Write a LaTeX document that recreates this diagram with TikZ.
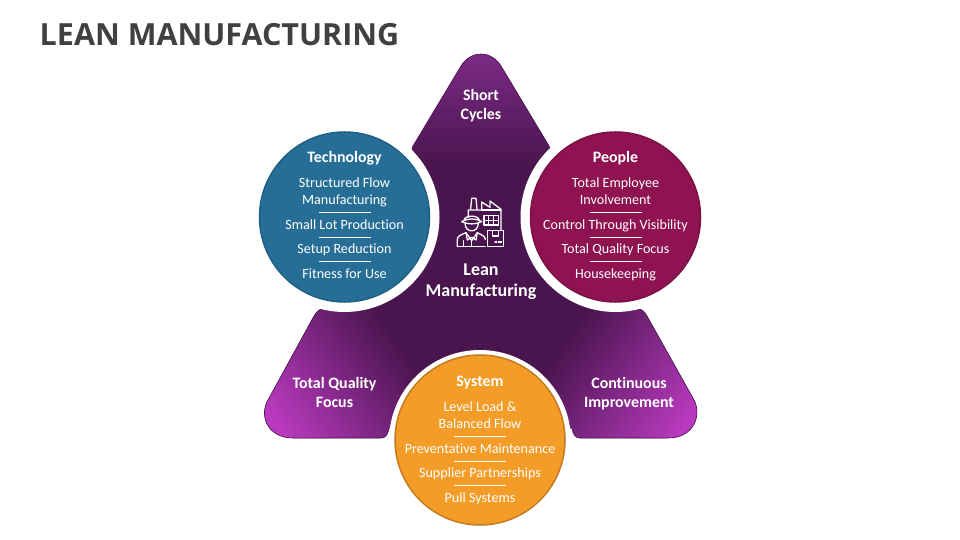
\documentclass[tikz,border=0pt]{standalone}
\usepackage{fontspec}
\setmainfont{Carlito}[Ligatures=NoCommon]
\newfontfamily\titlefont{Open Sans}
\definecolor{darkplum}{HTML}{4A154F}
\definecolor{midplum}{HTML}{7A2A80}
\definecolor{brightplum}{HTML}{B93ABF}
\definecolor{topplum}{HTML}{7B2A84}
\definecolor{techblue}{HTML}{276E96}
\definecolor{techedge}{HTML}{1F5F85}
\definecolor{peoplered}{HTML}{8E1350}
\definecolor{peopleedge}{HTML}{7A1146}
\definecolor{sysorange}{HTML}{F39C27}
\definecolor{sysedge}{HTML}{C47A1E}
\definecolor{titlegrey}{HTML}{404040}
\tikzset{
  headlabel/.style={text=white,font=\fontsize{15.9}{15.9}\selectfont\bfseries,text height=11pt,text depth=3pt,inner sep=0pt},
  centrelabel/.style={headlabel,font=\fontsize{18}{18}\selectfont\bfseries},
  itemlabel/.style={text=white,font=\fontsize{14.1}{14.1}\selectfont,text height=9pt,text depth=3pt,inner sep=0pt},
  bigdisc/.style={circle,draw,line width=1.5pt,minimum size=170pt,inner sep=0pt},
  gapdisc/.style={circle,fill=white,inner sep=0pt},
  sepline/.style={white,line width=0.8pt},
  iconline/.style={white,line width=1.3pt,line join=round,line cap=round}
}
\def\blobpath{(461,66) .. controls (471,50) and (491,50) .. (501,66) -- (549,146) .. controls (551,149) and (550,152) .. (546,155) -- (615,217) -- (630,311) .. controls (636,308) and (642,307) .. (647,316) -- (694,400) .. controls (702,415) and (694,438) .. (668,438) -- (580,438) .. controls (575,438) and (573,434) .. (572,428) -- (480,440) -- (389,428) .. controls (388,434) and (386,438) .. (381,438) -- (293,438) .. controls (267,438) and (259,415) .. (268,400) -- (314,316) .. controls (319,307) and (325,308) .. (331,311) -- (344,217) -- (415,154) .. controls (412,152) and (411,149) .. (413,146) -- cycle}
\begin{document}
\begin{tikzpicture}[x=1pt,y=-1pt]
\useasboundingbox (0,0) rectangle (960,540);
\fill[white] (0,0) rectangle (960,540);
\node[anchor=west,inner sep=0pt,text=titlegrey,font=\fontsize{30.5}{30.5}\selectfont\titlefont\bfseries] (title) at (39.5,34.5) {LEAN MANUFACTURING};
% blob
\begin{scope}
\clip \blobpath;
\fill[darkplum] (240,40) rectangle (720,450);
\begin{scope}[transform canvas={shift={(481pt,-270pt)},rotate=90}]
\shade[left color=darkplum,right color=topplum] (105,-120) rectangle (216,120);
\fill[topplum] (215.5,-120) rectangle (260,120);
\end{scope}
\begin{scope}[transform canvas={shift={(481pt,-270pt)},rotate=215}]
\shade[left color=darkplum,middle color=midplum,right color=brightplum] (110,-200) rectangle (256,200);
\fill[brightplum] (255.5,-200) rectangle (340,200);
\end{scope}
\begin{scope}[transform canvas={shift={(481pt,-270pt)},rotate=-35}]
\shade[left color=darkplum,middle color=midplum,right color=brightplum] (110,-200) rectangle (256,200);
\fill[brightplum] (255.5,-200) rectangle (340,200);
\end{scope}
\end{scope}
\draw[darkplum,line width=0.6pt] \blobpath;
% white gaps
\node[gapdisc,minimum size=190pt] (techgap) at (344.5,217) {};
\node[gapdisc,minimum size=190pt] (peoplegap) at (615.5,217) {};
\node[gapdisc,minimum size=182pt] (sysgap) at (480,441) {};
% circles
\node[bigdisc,fill=techblue,draw=techedge] (techdisc) at (344.5,217) {};
\node[bigdisc,fill=peoplered,draw=peopleedge] (peopledisc) at (615.5,217) {};
\node[bigdisc,fill=sysorange,draw=sysedge] (sysdisc) at (480,440) {};
% Technology
\node[headlabel] (t0) at (344.5,158.7) {Technology};
\node[itemlabel] (t1) at (344.5,184) {Structured Flow};
\node[itemlabel] (t2) at (344.5,201.5) {Manufacturing};
\node[itemlabel] (t3) at (344.5,226) {Small Lot Production};
\node[itemlabel] (t4) at (344.5,250) {Setup Reduction};
\node[itemlabel] (t5) at (344.5,275) {Fitness for Use};
\draw[sepline] (319,212.5) -- (371,212.5);
\draw[sepline] (319,237.5) -- (371,237.5);
\draw[sepline] (319,261.5) -- (371,261.5);
% People
\node[headlabel] (p0) at (615.5,158.7) {People};
\node[itemlabel] (p1) at (615.5,184) {Total Employee};
\node[itemlabel] (p2) at (615.5,201.5) {Involvement};
\node[itemlabel] (p3) at (615.5,226) {Control Through Visibility};
\node[itemlabel] (p4) at (615.5,250) {Total Quality Focus};
\node[itemlabel] (p5) at (615.5,275) {Housekeeping};
\draw[sepline] (590,212.5) -- (642,212.5);
\draw[sepline] (590,237.5) -- (642,237.5);
\draw[sepline] (590,261.5) -- (642,261.5);
% System
\node[headlabel] (s0) at (480,382.7) {System};
\node[itemlabel] (s1) at (480,408) {Level Load \&};
\node[itemlabel] (s2) at (480,425.5) {Balanced Flow};
\node[itemlabel] (s3) at (480,450) {Preventative Maintenance};
\node[itemlabel] (s4) at (480,474) {Supplier Partnerships};
\node[itemlabel] (s5) at (480,499) {Pull Systems};
\draw[sepline] (454,436.5) -- (506,436.5);
\draw[sepline] (454,461.5) -- (506,461.5);
\draw[sepline] (454,485.5) -- (506,485.5);
% lobes
\node[headlabel] (c1) at (481,96.7) {Short};
\node[headlabel] (c2) at (481,115.7) {Cycles};
\node[centrelabel] (c3) at (481,271.7) {Lean};
\node[centrelabel] (c4) at (481,292.7) {Manufacturing};
\node[headlabel] (c5) at (334.5,384.3) {Total Quality};
\node[headlabel] (c6) at (334.5,403.3) {Focus};
\node[headlabel] (c7) at (629,384.3) {Continuous};
\node[headlabel] (c8) at (629,403.3) {Improvement};
% icon
\begin{scope}[shift={(440,180)},x=0.3333pt,y=-0.3333pt,iconline]
\draw (92,88) -- (95,55) -- (108,55) -- (111,88);
\draw (85,112) -- (85,90) -- (125,90) -- (125,66) -- (150,82) -- (150,63) -- (183,88) -- (183,150);
\draw (125,90) -- (183,90);
\draw (132,107) rectangle (175,135);
\draw (146,107) -- (146,135) (160,107) -- (160,135) (132,121) -- (175,121);
\draw (65,125) .. controls (85,134) and (105,134) .. (125,125) .. controls (105,114) and (85,114) .. (65,125);
\draw (72,122) .. controls (72,104) and (118,104) .. (118,122);
\draw (75,130) .. controls (76,160) and (114,160) .. (115,130);
\draw (52,200) -- (52,178) .. controls (52,168) and (62,165) .. (78,158) -- (95,182) -- (112,158) .. controls (125,165) and (135,168) .. (136,178);
\draw (52,200) -- (135,200);
\draw (78,158) -- (82,180) -- (95,172) -- (108,180) -- (112,158);
\draw (70,182) -- (70,200) (95,182) -- (95,200);
\draw (142,152) rectangle (190,200);
\draw (158,152) -- (158,168) -- (175,168) -- (175,152);
\draw (165,186) -- (170,186) (175,186) -- (185,186);
\end{scope}
\end{tikzpicture}
\end{document}
